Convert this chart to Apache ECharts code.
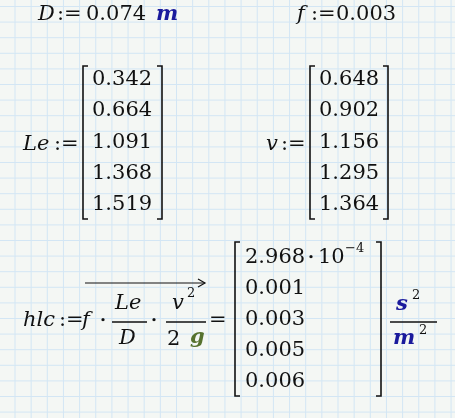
<!DOCTYPE html>
<html>
<head>
<meta charset="utf-8">
<script src="https://cdn.jsdelivr.net/npm/echarts@6/dist/echarts.min.js"></script>
<style>
html, body { margin: 0; padding: 0; background: #f4f7f4; }
#container { width: 455px; height: 418px; }
</style>
</head>
<body>
<div id="container"></div>
<script>
var D = '0.074';
var f = '0.003';
var Le = ['0.342', '0.664', '1.091', '1.368', '1.519'];
var v = ['0.648', '0.902', '1.156', '1.295', '1.364'];
var hlc = ['2.968', '0.001', '0.003', '0.005', '0.006'];   // 第一个值为 2.968·10^-4

var FONT = '"DejaVu Serif", "Liberation Serif", serif';
var INK = '#111';
var UNIT = '#1a1a9c';

var dom = document.getElementById('container');
var myChart = echarts.init(dom);
var g = [];

// 背景网格
for (var x = 15; x < 455; x += 16.15) {
	g.push({ type: 'line', shape: { x1: x, y1: 0, x2: x, y2: 418 }, style: { stroke: '#d3e6f4', lineWidth: 1 }, silent: true });
}
for (var y = 6.5; y < 418; y += 15.6) {
	g.push({ type: 'line', shape: { x1: 0, y1: y, x2: 455, y2: y }, style: { stroke: '#d3e6f4', lineWidth: 1 }, silent: true });
}

function txt(s, x, y, opt) {
	opt = opt || {};
	g.push({
		type: 'text', x: x, y: y,
		style: {
			text: s, fill: opt.color || INK,
			font: (opt.style || 'normal') + ' ' + (opt.weight || 'normal') + ' ' + (opt.size || 21) + 'px ' + FONT,
			textAlign: opt.align || 'left', textVerticalAlign: 'middle'
		}
	});
}
function line(x1, y1, x2, y2, w) {
	g.push({ type: 'line', shape: { x1: x1, y1: y1, x2: x2, y2: y2 }, style: { stroke: INK, lineWidth: w || 1.3 } });
}
function bracket(x, top, bottom, dir) {	// dir: 1 左括号, -1 右括号
	g.push({ type: 'polyline', shape: { points: [[x + 5 * dir, top], [x, top], [x, bottom], [x + 5 * dir, bottom]] }, style: { stroke: INK, lineWidth: 1.6, fill: null } });
}
function matrix(vals, x, left, right, rows) {
	bracket(left, rows[0] - 14, rows[rows.length - 1] + 14, 1);
	bracket(right, rows[0] - 14, rows[rows.length - 1] + 14, -1);
	for (var i = 0; i < vals.length; i++) txt(vals[i], x, rows[i]);
}

// 第一行
txt('D', 38, 15, { style: 'italic' });
txt(':=', 57, 15);
txt(D, 86, 15);
txt('m', 156, 15, { style: 'italic', weight: 'bold', color: UNIT });
txt('f', 297, 15, { style: 'italic' });
txt(':=', 311, 15);
txt(f, 336, 15);

// Le, v 矩阵
var rows1 = [80, 111, 143, 174, 205];
txt('Le', 23, 145, { style: 'italic' });
txt(':=', 54, 145);
matrix(Le, 92, 83, 162, rows1);
txt('v', 266, 145, { style: 'italic' });
txt(':=', 281, 145);
matrix(v, 319, 310, 388, rows1);

// hlc 公式
txt('hlc', 23, 321, { style: 'italic' });
txt(':=', 59, 321);
txt('f', 82, 321, { style: 'italic' });
txt('•', 103, 321, { size: 11, align: 'center' });
txt('Le', 115, 304, { style: 'italic' });
line(112, 322, 147, 322);
txt('D', 119, 339, { style: 'italic' });
txt('•', 154, 321, { size: 11, align: 'center' });
txt('v', 172, 304, { style: 'italic' });
txt('2', 187, 294, { size: 13 });
line(166, 322, 206, 322);
txt('2', 167, 340);
txt('g', 190, 338, { style: 'italic', weight: 'bold', color: '#56722e' });
txt('=', 209, 321);
line(85, 283, 205, 283, 1.2);
g.push({ type: 'polyline', shape: { points: [[198, 279], [205, 283], [198, 287]] }, style: { stroke: INK, lineWidth: 1.2, fill: null } });

var rows2 = [258, 289, 320, 351, 382];
bracket(235, 242, 396, 1);
bracket(381, 242, 396, -1);
txt(hlc[0], 245, rows2[0]);
txt('•', 311, rows2[0], { size: 11, align: 'center' });
txt('10', 318, rows2[0]);
txt('−4', 345, rows2[0] - 9, { size: 13 });
for (var i = 1; i < hlc.length; i++) txt(hlc[i], 245, rows2[i]);

// 单位 s²/m²
txt('s', 396, 305, { style: 'italic', weight: 'bold', color: UNIT });
txt('2', 412, 296, { size: 13 });
line(390, 322, 437, 322);
txt('m', 393, 339, { style: 'italic', weight: 'bold', color: UNIT });
txt('2', 419, 331, { size: 13 });

myChart.setOption({ animation: false, graphic: { elements: g } });
</script>
</body>
</html>
